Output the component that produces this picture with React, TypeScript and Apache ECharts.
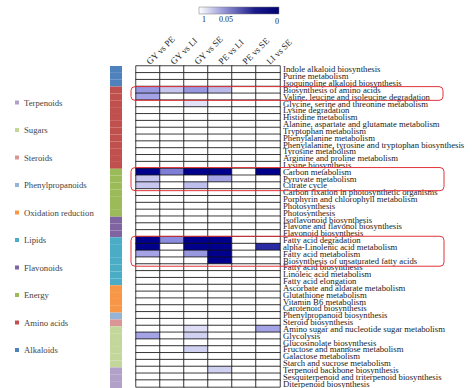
import React, { useEffect, useRef } from "react";
import * as echarts from "echarts";

const comparisons = ["GY vs PE", "GY vs LI", "GY vs SE", "PE vs LI", "PE vs SE", "LI vs SE"];

const pathways = [
  "Indole alkaloid biosynthesis",
  "Purine metabolism",
  "Isoquinoline alkaloid biosynthesis",
  "Biosynthesis of amino acids",
  "Valine, leucine and isoleucine degradation",
  "Glycine, serine and threonine metabolism",
  "Lysine degradation",
  "Histidine metabolism",
  "Alanine, aspartate and glutamate metabolism",
  "Tryptophan metabolism",
  "Phenylalanine metabolism",
  "Phenylalanine, tyrosine and tryptophan biosynthesis",
  "Tyrosine metabolism",
  "Arginine and proline metabolism",
  "Lysine biosynthesis",
  "Carbon metabolism",
  "Pyruvate metabolism",
  "Citrate cycle",
  "Carbon fixation in photosynthetic organisms",
  "Porphyrin and chlorophyll metabolism",
  "Photosynthesis",
  "Photosynthesis ",
  "Isoflavonoid biosynthesis",
  "Flavone and flavonol biosynthesis",
  "Flavonoid biosynthesis",
  "Fatty acid degradation",
  "alpha-Linolenic acid metabolism",
  "Fatty acid metabolism",
  "Biosynthesis of unsaturated fatty acids",
  "Fatty acid biosynthesis",
  "Linoleic acid metabolism",
  "Fatty acid elongation",
  "Ascorbate and aldarate metabolism",
  "Glutathione metabolism",
  "Vitamin B6 metabolism",
  "Carotenoid biosynthesis",
  "Phenylpropanoid biosynthesis",
  "Steroid biosynthesis",
  "Amino sugar and nucleotide sugar metabolism",
  "Glycolysis",
  "Glucosinolate biosynthesis",
  "Fructose and mannose metabolism",
  "Galactose metabolism",
  "Starch and sucrose metabolism",
  "Terpenoid backbone biosynthesis",
  "Sesquiterpenoid and triterpenoid biosynthesis",
  "Diterpenoid biosynthesis",
];

// enrichment intensity per pathway (0 = not significant / white, 1 = darkest)
const enrichment: number[][] = [
  [0, 0, 0, 0, 0, 0],
  [0, 0, 0, 0, 0, 0],
  [0, 0, 0, 0, 0, 0],
  [0.45, 0.25, 0.45, 0.3, 0, 0],
  [0.4, 0, 0, 0, 0, 0],
  [0, 0, 0.12, 0, 0, 0],
  [0, 0, 0, 0, 0, 0],
  [0, 0, 0, 0, 0, 0],
  [0, 0, 0, 0, 0, 0],
  [0, 0, 0, 0, 0, 0],
  [0, 0, 0, 0, 0, 0],
  [0, 0, 0, 0, 0, 0],
  [0, 0, 0, 0, 0, 0],
  [0, 0, 0, 0, 0, 0],
  [0, 0, 0, 0, 0, 0],
  [1, 0.55, 1, 1, 0, 1],
  [0.25, 0, 0, 0.4, 0, 0],
  [0.25, 0, 0.28, 0, 0, 0],
  [0, 0, 0, 0, 0, 0],
  [0, 0, 0, 0, 0, 0],
  [0, 0, 0, 0, 0, 0],
  [0, 0, 0, 0, 0, 0],
  [0, 0, 0, 0, 0, 0],
  [0, 0, 0, 0, 0, 0],
  [0, 0, 0, 0, 0, 0],
  [1, 0.5, 1, 1, 0, 0],
  [1, 0, 1, 1, 0, 0.85],
  [0.4, 0, 0.45, 1, 0, 0],
  [0, 0, 0, 1, 0, 0],
  [0, 0, 0, 0, 0, 0],
  [0, 0, 0, 0, 0, 0],
  [0, 0, 0, 0, 0, 0],
  [0, 0, 0, 0, 0, 0],
  [0, 0, 0, 0, 0, 0],
  [0, 0, 0, 0, 0, 0],
  [0, 0, 0, 0, 0, 0],
  [0, 0, 0, 0, 0, 0],
  [0, 0, 0, 0, 0, 0],
  [0, 0, 0.15, 0, 0, 0.4],
  [0.4, 0, 0.2, 0, 0, 0],
  [0, 0, 0, 0, 0, 0],
  [0, 0, 0.2, 0, 0, 0],
  [0, 0, 0, 0, 0, 0],
  [0, 0, 0, 0, 0, 0],
  [0, 0, 0, 0.2, 0, 0],
  [0, 0, 0, 0, 0, 0],
  [0, 0, 0, 0, 0, 0],
];

const groupNames = [
  "Alkaloids",
  "Amino acids",
  "Energy",
  "Flavonoids",
  "Lipids",
  "Oxidation reduction",
  "Phenylpropanoids",
  "Steroids",
  "Sugars",
  "Terpenoids",
];
const groupColors = [
  "#4f81bd",
  "#c0504d",
  "#9bbb59",
  "#8064a2",
  "#4bacc6",
  "#f79646",
  "#95b3d7",
  "#da9694",
  "#c4d79b",
  "#b1a0c7",
];
const groupRowCounts = [3, 12, 7, 3, 7, 4, 1, 1, 6, 3];

const highlightRanges = [
  [3, 4],
  [15, 17],
  [25, 28],
];

const colorbarLabels = ["1", "0.05", "0"];

const FONT = "'Liberation Serif', 'Times New Roman', serif";
const GRID_LEFT = 136;
const GRID_RIGHT_EDGE = 280;
const GRID_TOP = 66;
const ROW_H = 6.87;

export default function App() {
  const ref = useRef<HTMLDivElement>(null);

  useEffect(() => {
    if (!ref.current) return;
    const chart = echarts.init(ref.current, undefined, { renderer: "svg" });

    const heatData: number[][] = [];
    enrichment.forEach((row, r) => row.forEach((v, c) => heatData.push([c, r, v])));

    const rowGroup: number[] = [];
    groupRowCounts.forEach((n, g) => {
      for (let i = 0; i < n; i++) rowGroup.push(g);
    });

    const groupSeries = groupNames.map((name, g) => ({
      name,
      type: "bar",
      xAxisIndex: 1,
      yAxisIndex: 1,
      stack: "groups",
      barWidth: "100%",
      barCategoryGap: 0,
      itemStyle: { color: groupColors[g] },
      data: pathways.map((_, r) => (rowGroup[r] === g ? 1 : "-")),
    }));

    const gridHeight = ROW_H * pathways.length;

    const boxes = highlightRanges.map(([a, b], i) => ({
      type: "rect",
      shape: {
        x: 131,
        y: GRID_TOP + a * ROW_H - (i === 0 ? 0 : 1.5),
        width: i === 0 ? 312 : 313,
        height: (b - a + 1) * ROW_H + (i === 0 ? 0 : 2.5),
        r: 4,
      },
      style: { fill: "none", stroke: "#e0343a", lineWidth: 1 },
      z: 100,
    }));

    chart.setOption({
      animation: false,
      backgroundColor: "#ffffff",
      grid: [
        {
          left: GRID_LEFT,
          width: GRID_RIGHT_EDGE - GRID_LEFT,
          top: GRID_TOP,
          height: gridHeight,
        },
        { left: 110, width: 12, top: GRID_TOP, height: gridHeight },
      ],
      xAxis: [
        {
          type: "category",
          gridIndex: 0,
          position: "top",
          data: comparisons,
          axisLine: { show: false },
          axisTick: { show: false },
          splitLine: { show: false },
          axisLabel: {
            rotate: -45,
            margin: 3,
            fontSize: 9,
            fontFamily: FONT,
            color: "#222",
          },
        },
        { type: "value", gridIndex: 1, min: 0, max: 1, show: false },
      ],
      yAxis: [
        {
          type: "category",
          gridIndex: 0,
          position: "right",
          inverse: true,
          data: pathways,
          axisLine: { show: false },
          axisTick: { show: false },
          axisLabel: {
            interval: 0,
            margin: 3,
            fontSize: 8.7,
            fontFamily: FONT,
            color: "#222",
          },
        },
        {
          type: "category",
          gridIndex: 1,
          inverse: true,
          data: pathways,
          show: false,
        },
      ],
      visualMap: {
        show: false,
        seriesIndex: 0,
        min: 0,
        max: 1,
        inRange: { color: ["#ffffff", "#8c8cde", "#00008c"] },
      },
      legend: {
        orient: "vertical",
        left: 10,
        top: 92,
        data: [...groupNames].reverse(),
        icon: "rect",
        itemWidth: 4,
        itemHeight: 4,
        itemGap: 16.5,
        selectedMode: false,
        textStyle: { fontSize: 8.7, lineHeight: 11, fontFamily: FONT, color: "#444" },
      },
      series: [
        {
          type: "heatmap",
          xAxisIndex: 0,
          yAxisIndex: 0,
          data: heatData,
          itemStyle: { borderColor: "#111", borderWidth: 0.8 },
          emphasis: { disabled: true },
        },
        ...groupSeries,
      ],
      graphic: [
        {
          type: "rect",
          shape: { x: 199, y: 7, width: 80, height: 7 },
          style: {
            fill: new echarts.graphic.LinearGradient(0, 0, 1, 0, [
              { offset: 0, color: "#ffffff" },
              { offset: 0.3, color: "#9a9ad8" },
              { offset: 0.7, color: "#1a1a8a" },
              { offset: 1, color: "#000070" },
            ]),
            stroke: "#777",
            lineWidth: 0.5,
          },
        },
        {
          type: "text",
          x: 202,
          y: 15,
          style: { text: colorbarLabels[0], fontSize: 8, fontFamily: FONT, fill: "#222" },
        },
        {
          type: "text",
          x: 219,
          y: 15,
          style: { text: colorbarLabels[1], fontSize: 8, fontFamily: FONT, fill: "#222" },
        },
        {
          type: "text",
          x: 275,
          y: 17,
          style: { text: colorbarLabels[2], fontSize: 8, fontFamily: FONT, fill: "#222" },
        },
        ...boxes,
      ],
    });

    return () => chart.dispose();
  }, []);

  return (
    <div
      ref={ref}
      style={{ position: "fixed", left: 0, top: 0, width: 474, height: 388 }}
    />
  );
}
